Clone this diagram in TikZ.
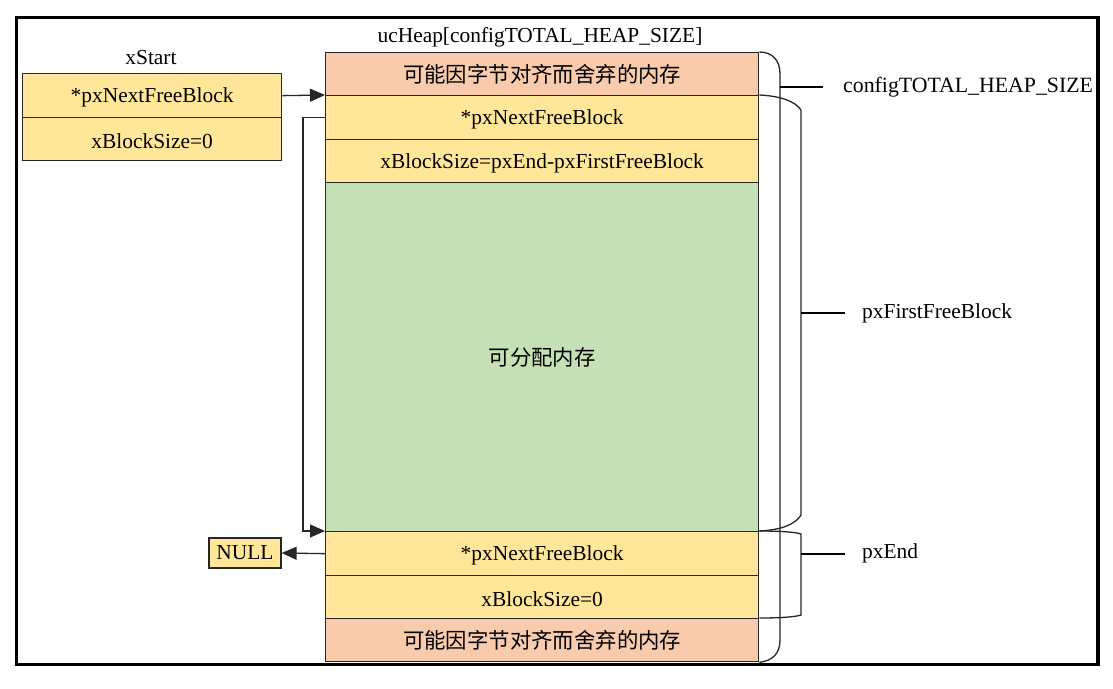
\documentclass[tikz,border=0pt]{standalone}
\usepackage{fontspec}
\setmainfont{Liberation Serif}
\newfontfamily\cjk{Noto Sans CJK SC}
\usetikzlibrary{arrows.meta}
\definecolor{pinkc}{HTML}{F8CBAD}
\definecolor{yelc}{HTML}{FFE699}
\definecolor{grnc}{HTML}{C5E0B4}
\definecolor{linec}{HTML}{262626}
\newcommand{\lowr}[1]{\raisebox{-2pt}[\height][\depth]{#1}}
\begin{document}
\begin{tikzpicture}[x=1pt,y=-1pt,
  txt/.style={font=\fontsize{21.4}{25}\selectfont, inner sep=0pt},
  cell/.style={txt, draw=linec, line width=1.3pt, anchor=north west, minimum width=433pt},
  lcell/.style={txt, draw=linec, line width=1.3pt, anchor=north west, minimum width=259pt, minimum height=44pt, fill=yelc},
  arr/.style={draw=linec, line width=1.3pt, -{Triangle[length=15pt,width=13pt]}},
  brace/.style={draw=linec, line width=1.3pt},
  tick/.style={draw=black, line width=1.5pt},
  lbl/.style={txt, anchor=west}]
\useasboundingbox (0,0) rectangle (1113,688);
% outer frame
\draw[line width=3.4pt] (16.5,17.5) rectangle (1098,664.5);
% heap column
\node[txt] (uc) at (540,37) {ucHeap[configTOTAL\_HEAP\_SIZE]};
\node[cell, fill=pinkc, minimum height=43pt] (r1) at (325,52) {\cjk 可能因字节对齐而舍弃的内存};
\node[cell, fill=yelc, minimum height=44pt] (r2) at (325,95) {\lowr{*pxNextFreeBlock}};
\node[cell, fill=yelc, minimum height=43pt] (r3) at (325,139) {\lowr{xBlockSize=pxEnd-pxFirstFreeBlock}};
\node[cell, fill=grnc, minimum height=349pt] (r4) at (325,182) {\cjk 可分配内存};
\node[cell, fill=yelc, minimum height=44pt] (r5) at (325,531) {\lowr{*pxNextFreeBlock}};
\node[cell, fill=yelc, minimum height=43pt] (r6) at (325,575) {\lowr{xBlockSize=0}};
\node[cell, fill=pinkc, minimum height=43pt] (r7) at (325,618) {\cjk 可能因字节对齐而舍弃的内存};
% xStart
\node[txt] (xsl) at (151,58) {xStart};
\node[lcell] (xs1) at (22,73) {\lowr{*pxNextFreeBlock}};
\node[lcell, minimum height=43pt] (xs2) at (22,117) {\lowr{xBlockSize=0}};
% NULL
\node[txt, draw=linec, line width=1.3pt, fill=yelc, minimum width=72pt, minimum height=30pt] (null) at (245,553) {NULL};
% arrows
\draw[arr] (xs1.east) -- (r2.north west);
\draw[arr] (r2.west) -- ++(-22,0) |- (r5.north west);
\draw[arr] (r5.west) -- (null.east);
% braces
\draw[brace] (r1.north east) .. controls (772,52) and (780,60) .. (780,74)
  -- (780,640) .. controls (780,654) and (772,661) .. (r7.south east);
\draw[brace] (r2.north east) .. controls (780,96) and (795,101) .. (801,110)
  -- (801,515) .. controls (795,525) and (780,530) .. (r5.north east);
\draw[brace] (r5.north east) .. controls (780,531) and (795,532) .. (801,534)
  -- (801,615) .. controls (795,617) and (780,618) .. (r7.north east);
% ticks and labels
\coordinate (t1) at (780,87);
\coordinate (t2) at (801,313);
\coordinate (t3) at (801,554);
\draw[tick] (t1) -- ++(43,0);
\draw[tick] (t2) -- ++(44,0);
\draw[tick] (t3) -- ++(44,0);
\node[lbl, font=\fontsize{21.8}{25}\selectfont] (l1) at (843,87) {configTOTAL\_HEAP\_SIZE};
\node[lbl] (l2) at (862,313) {pxFirstFreeBlock};
\node[lbl] (l3) at (862,553) {pxEnd};
\end{tikzpicture}
\end{document}
